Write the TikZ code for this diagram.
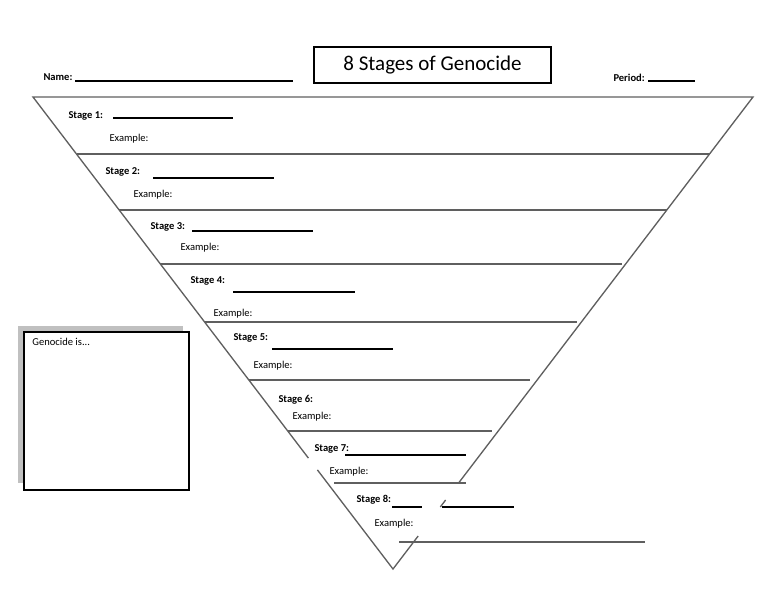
\documentclass[tikz,border=0pt]{standalone}
\usepackage{fontspec}
\setmainfont{Carlito}
\usetikzlibrary{calc}

\tikzset{every picture/.style={line width=0.75pt}}

\begin{document}
\begin{tikzpicture}[
            x=0.75pt,
            y=0.75pt,
            yscale=-1,
            xscale=1,
            every node/.style={text=black},
            lab/.style={anchor=base west, inner sep=0pt, font=\fontsize{7.9}{9}\selectfont\bfseries},
            ex/.style={anchor=base west, inner sep=0pt, font=\fontsize{7.9}{9}\selectfont},
            band/.style={draw={rgb,255:red,95;green,95;blue,95}, line width=1pt},
            blank/.style={draw=black, line width=0.8pt}
        ]
            \useasboundingbox (0,0) rectangle (768,594);

            % header
            \node [draw=black, line width=0.9pt, minimum width=177.75pt, minimum height=27pt, inner sep=0pt,
                   font=\fontsize{15.75}{19}\selectfont] (title) at (432.5,65) {8 Stages of Genocide};
            \node [lab] (name) at (43,80.5) {Name:};
            \draw [blank] (75,81) -- (293,81);
            \node [lab] (period) at (613,81) {Period:};
            \draw [blank] (648,81) -- (695,81);

            % funnel
            \coordinate (tl) at (33,97);
            \coordinate (tr) at (753,97);
            \coordinate (apex) at (393,569);
            \draw [band] ($(tl)!0.79!(apex)$) -- (apex) -- ($(tr)!0.930!(apex)$);
            \draw [band] ($(tr)!0.8538!(apex)$) -- ($(tr)!0.8686!(apex)$);
            \draw [band] ($(tr)!0.8178!(apex)$) -- (tr) -- (tl) -- ($(tl)!0.765!(apex)$);

            \draw [band] (76.5,154) -- (709.5,154);
            \draw [band] (119.2,210) -- (666.8,210);
            \draw [band] (160.4,264) -- (622,264);
            \draw [band] (204.6,322) -- (577,322);
            \draw [band] (248.8,380) -- (530,380);
            \draw [band] (288,431) -- (492,431);
            \draw [band] (334,483) -- (466,483);
            \draw [band] (399,542) -- (645,542);

            % stages
            \node [lab] (s1) at (68,118.5) {Stage 1:};
            \draw [blank] (113,118) -- (233,118);
            \node [ex] (e1) at (109,141.5) {Example:};

            \node [lab] (s2) at (105,174) {Stage 2:};
            \draw [blank] (153,178) -- (274,178);
            \node [ex] (e2) at (133,197) {Example:};

            \node [lab] (s3) at (150,229) {Stage 3:};
            \draw [blank] (192,231) -- (313,231);
            \node [ex] (e3) at (180,250.5) {Example:};

            \node [lab] (s4) at (190,283) {Stage 4:};
            \draw [blank] (233,292) -- (355,292);
            \node [ex] (e4) at (213,316) {Example:};

            \node [lab] (s5) at (233,340) {Stage 5:};
            \draw [blank] (272,349) -- (393,349);
            \node [ex] (e5) at (253,368) {Example:};

            \node [lab] (s6) at (278,402) {Stage 6:};
            \node [ex] (e6) at (292,419) {Example:};

            \node [lab] (s7) at (314,451) {Stage 7:};
            \draw [blank] (345,455) -- (466,455);
            \node [ex] (e7) at (329,474) {Example:};

            \node [lab] (s8) at (356,502) {Stage 8:};
            \draw [blank] (392,507) -- (422,507);
            \draw [blank] (442,507) -- (514,507);
            \node [ex] (e8) at (374,526) {Example:};

            % definition box
            \fill [fill={rgb,255:red,192;green,192;blue,192}] (18,326) rectangle (183,483);
            \node [draw=black, fill=white, line width=0.9pt, minimum width=123.75pt, minimum height=118.5pt, inner sep=0pt] (gbox) at (106.5,411) {};
            \node [ex] (gtext) at (32,345) {Genocide is...};
        \end{tikzpicture}
\end{document}
